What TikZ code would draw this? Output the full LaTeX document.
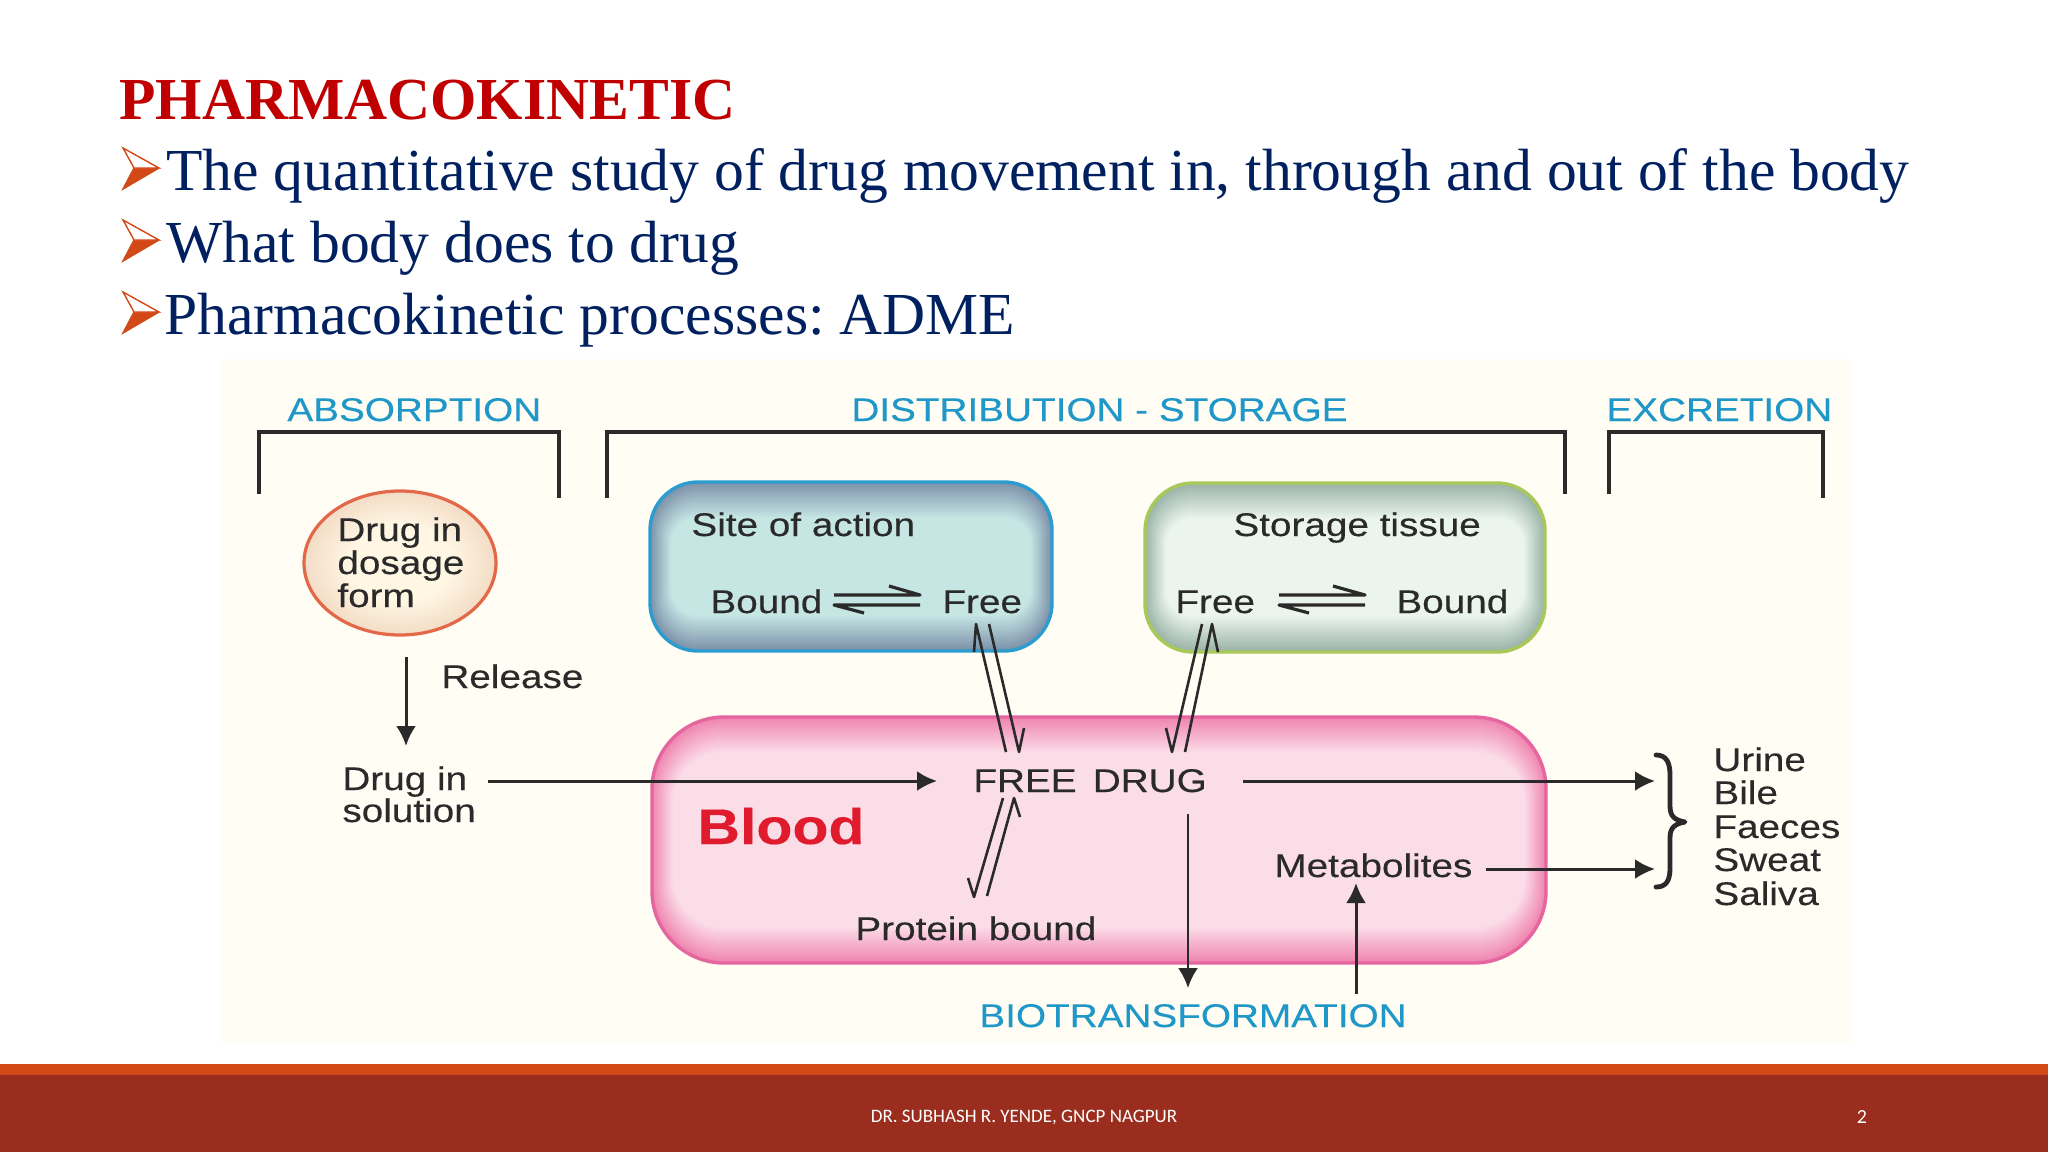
\documentclass[tikz,border=0pt]{standalone}
\usepackage{fontspec}
\setmainfont{Liberation Serif}
\newfontfamily\figfont[FakeStretch=1.18,FakeBold=0.25]{Liberation Sans}
\newfontfamily\footfont{Carlito}
\usetikzlibrary{arrows.meta,shapes.geometric}
\definecolor{titlered}{HTML}{C00000}
\definecolor{bodyblue}{HTML}{002060}
\definecolor{accent}{HTML}{D34817}
\definecolor{footred}{HTML}{9B2D1F}
\definecolor{panel}{HTML}{FFFDF4}
\definecolor{labelblue}{HTML}{1F97C8}
\definecolor{ink}{HTML}{2A2A2A}
\definecolor{bloodred}{HTML}{E01B2E}
\definecolor{siteB}{HTML}{2A9CD0}\definecolor{siteE}{HTML}{7F95AC}\definecolor{siteI}{HTML}{C6E6E4}
\definecolor{storeB}{HTML}{A8C858}\definecolor{storeE}{HTML}{9DB6AA}\definecolor{storeI}{HTML}{EBF5EE}
\definecolor{bloodB}{HTML}{E4659F}\definecolor{bloodE}{HTML}{F088B2}\definecolor{bloodI}{HTML}{FBDDE8}
\definecolor{doseB}{HTML}{E26848}
\definecolor{doseI}{HTML}{FFF7E4}\definecolor{doseM}{HTML}{F3DCC6}\definecolor{doseE}{HTML}{D99F84}
\pgfdeclareradialshading{doseshade}{\pgfpointorigin}{
  color(0bp)=(doseI);
  color(13bp)=(doseI);
  color(25bp)=(doseM);
  color(33bp)=(doseE);
  color(50bp)=(doseE)}
\tikzset{
  x=0.5pt,y=-0.5pt,
  headline/.style={anchor=base west,inner sep=0pt,text=titlered,font=\fontsize{29.8}{36}\selectfont\bfseries},
  bodyline/.style={anchor=base west,inner sep=0pt,text=bodyblue,font=\fontsize{29.8}{36}\selectfont},
  figtext/.style={anchor=base west,inner sep=0pt,text=ink,font=\figfont\fontsize{16.4}{20}\selectfont},
  figlabel/.style={figtext,text=labelblue},
  bracketline/.style={draw=ink,line width=1.6pt},
  mainarrow/.style={draw=ink,line width=1.5pt,-{Latex[length=10pt,width=10pt]}},
  thinarrow/.style={draw=ink,line width=1.2pt,-{Latex[length=10pt,width=10pt]}},
  harpoon/.style={draw=ink,line width=1.3pt,line join=round},
  eqline/.style={draw=ink,line width=1.6pt,line join=round},
}
% softbox: x1 y1 x2 y2 border edge inner radius
\newcommand{\softbox}[8]{%
  \foreach \i in {0,...,18}{%
    \pgfmathsetmacro{\pct}{100*min(\i/18,1)}%
    \pgfmathsetmacro{\rad}{max((#8-\i*1.2)*0.5,1)}%
    \fill[color=#7!\pct!#6,rounded corners=\rad pt]
      ({#1+1+\i*1.1},{#2+1+\i*1.9}) rectangle ({#3-1-\i*1.1},{#4-1-\i*1.9});
  }%
  \draw[#5,line width=1.7pt,rounded corners=#8*0.5pt] (#1,#2) rectangle (#3,#4);
}
\newcommand{\bulletmark}[1]{%
  \fill[accent] (123,#1+21) -- (159,#1) -- (134,#1);
  \draw[accent,line width=0.7pt,line join=miter,fill=white] (134,#1) -- (123,#1-20) -- (159,#1) -- cycle;
  \draw[accent,line width=0.7pt,line join=miter] (134,#1) -- (123,#1+21) -- (159,#1);
}
\begin{document}
\begin{tikzpicture}
\useasboundingbox (0,0) rectangle (2048,1152);
\fill[white] (0,0) rectangle (2048,1152);

% slide text
\node[headline] (title) at (119,119) {PHARMACOKINETIC};
\bulletmark{168}\bulletmark{240}\bulletmark{312}
\node[bodyline] (l1) at (166,190) {The quantitative study of drug movement in, through and out of the body};
\node[bodyline] (l2) at (166,262) {What body does to drug};
\node[bodyline] (l3) at (164,334) {\frenchspacing Pharmacokinetic processes: ADME};

% figure panel
\fill[panel] (222,359) rectangle (1852,1043);

% labels and brackets
\node[figlabel] (labA) at (287,421) {ABSORPTION};
\node[figlabel] (labD) at (851,421) {DISTRIBUTION - STORAGE};
\node[figlabel] (labE) at (1606,421) {EXCRETION};
\draw[bracketline] (259,494) -- (259,432) -- (559,432) -- (559,498);
\draw[bracketline] (607,498) -- (607,432) -- (1565,432) -- (1565,494);
\draw[bracketline] (1609,494) -- (1609,432) -- (1823,432) -- (1823,498);

% boxes
\softbox{650}{482}{1052}{651}{siteB}{siteE}{siteI}{48}
\softbox{1145}{483}{1545}{652}{storeB}{storeE}{storeI}{48}
\softbox{652}{717}{1546}{963}{bloodB}{bloodE}{bloodI}{72}

% dosage form
\node[ellipse,draw=doseB,line width=1.6pt,minimum width=96pt,minimum height=72pt,inner sep=0pt,
  shading=doseshade] (dosage) at (400,563) {};

% text
\node[figtext] (d1) at (337,541) {Drug in};
\node[figtext] (d2) at (337,574) {dosage};
\node[figtext] (d3) at (337,607) {form};
\node[figtext] (siteT) at (691,536) {Site of action};
\node[figtext] (bound1) at (710,613) {Bound};
\node[figtext] (free1) at (942,613) {Free};
\node[figtext] (storeT) at (1233,536) {Storage tissue};
\node[figtext] (free2) at (1175,613) {Free};
\node[figtext] (bound2) at (1396,613) {Bound};
\node[figtext] (release) at (441,688) {Release};
\node[figtext] (sol1) at (342,790) {Drug in};
\node[figtext] (sol2) at (342,822) {solution};
\node[figtext] (freedrug) at (973,792) {FREE\, DRUG};
\node[figtext,text=bloodred,font=\figfont\bfseries\fontsize{25}{30}\selectfont] (blood) at (697,844) {Blood};
\node[figtext] (metab) at (1274,877) {Metabolites};
\node[figtext] (protein) at (855,940) {Protein bound};
\node[figlabel] (biotrans) at (979,1027) {BIOTRANSFORMATION};
\node[figtext] (e1) at (1713,771) {Urine};
\node[figtext] (e2) at (1713,804) {Bile};
\node[figtext] (e3) at (1713,838) {Faeces};
\node[figtext] (e4) at (1713,871) {Sweat};
\node[figtext] (e5) at (1713,905) {Saliva};

% connector ends
\coordinate (relA) at (406,657); \coordinate (relB) at (406,746);
\coordinate (solA) at (488,781); \coordinate (fdA) at (937,781);
\coordinate (fdB) at (1243,781); \coordinate (exA) at (1655,781);
\coordinate (meA) at (1486,869); \coordinate (exB) at (1655,869);
\coordinate (fdC) at (1188,814); \coordinate (bioA) at (1188,988);
\coordinate (bioB) at (1356,994); \coordinate (meB) at (1356,883);

\draw[mainarrow] (relA) -- (relB);
\draw[mainarrow] (solA) -- (fdA);
\draw[mainarrow] (fdB) -- (exA);
\draw[mainarrow] (meA) -- (exB);
\draw[thinarrow] (fdC) -- (bioA);
\draw[mainarrow] (bioB) -- (meB);

% double harpoons, site of action
\draw[harpoon] (974,652) -- (976,624) -- (1006,752);
\draw[harpoon] (989,624) -- (1019,752) -- (1024,728);
% storage tissue
\draw[harpoon] (1218,652) -- (1212,624) -- (1185,752);
\draw[harpoon] (1202,624) -- (1172,752) -- (1166,728);
% protein bound
\draw[harpoon] (1020,817) -- (1014,798) -- (987,896);
\draw[harpoon] (1003,798) -- (974,897) -- (968,878);

% equilibrium signs
\draw[eqline] (834,595) -- (920,595) -- (889,586);
\draw[eqline] (864,613) -- (834,605) -- (920,605);
\draw[eqline] (1279,595) -- (1365,595) -- (1333,586);
\draw[eqline] (1309,613) -- (1279,605) -- (1365,605);

% brace
\draw[draw=ink,line width=2.4pt,line cap=round,line join=round]
  (1656,755) .. controls (1666,755) and (1670,762) .. (1670,775)
  -- (1670,806) .. controls (1670,816) and (1674,820) .. (1685,822)
  .. controls (1674,824) and (1670,828) .. (1670,838)
  -- (1670,868) .. controls (1670,881) and (1666,887) .. (1656,887);

% footer
\fill[accent] (0,1064) rectangle (2048,1075);
\fill[footred] (0,1075) rectangle (2048,1152);
\node[text=white,inner sep=0pt,font=\footfont\fontsize{9.5}{11}\selectfont] (foot) at (1024,1118) {DR. SUBHASH R. YENDE, GNCP NAGPUR};
\node[text=white,inner sep=0pt,font=\footfont\fontsize{10}{12}\selectfont] (pageno) at (1862,1117) {2};
\end{tikzpicture}
\end{document}
